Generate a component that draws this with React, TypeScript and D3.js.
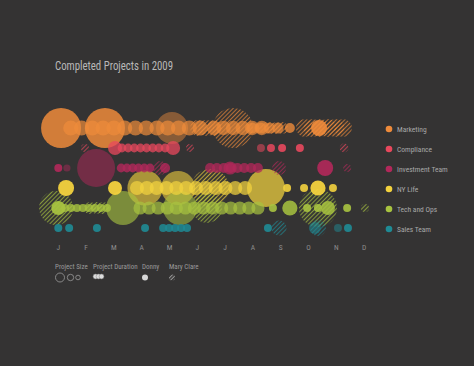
import React from 'react';
import * as d3 from 'd3';

const W = 474;
const H = 366;

const TEAMS = ['Marketing', 'Compliance', 'Investment Team', 'NY Life', 'Tech and Ops', 'Sales Team'];
const TEAM_COLORS = ['#ee8b3b', '#e8485d', '#b2285a', '#f3d23e', '#a8c340', '#1f8b95'];
const MONTHS = ['J', 'F', 'M', 'A', 'M', 'J', 'J', 'A', 'S', 'O', 'N', 'D'];
const OWNERS = ['Donny', 'Mary Clare'];

// [start month, end month, project size, owner (0 = Donny, 1 = Mary Clare), emphasis]
const MARKETING = [
  [0.1, 0.1, 10, 0, 0.85],
  [1.68, 1.68, 10, 0, 0.85],
  [0.45, 5.1, 3.8, 0, 0.7],
  [4.09, 4.09, 8, 0, 0.45],
  [5.03, 5.6, 4, 1, 1],
  [5.6, 7.32, 3.6, 0, 0.7],
  [6.28, 6.28, 10, 1, 1],
  [7.43, 8.05, 3, 1, 1],
  [6.97, 7.9, 2.8, 0, 0.7],
  [8.33, 8.33, 2.5, 0, 0.8],
  [8.87, 10.24, 4.5, 1, 1],
  [9.38, 9.38, 4, 0, 0.9],
];
const COMPLIANCE = [
  [0.96, 0.96, 2, 1, 1],
  [2.04, 2.04, 3.5, 0, 0.75],
  [2.29, 3.84, 2.2, 0, 0.75],
  [4.13, 4.13, 3.5, 0, 0.75],
  [4.74, 4.74, 2, 1, 1],
  [7.29, 7.29, 2, 0, 0.55],
  [7.65, 7.65, 2, 0, 0.85],
  [8.05, 8.05, 2, 0, 0.9],
  [8.69, 8.69, 2, 0, 0.9],
  [10.28, 10.28, 2.2, 1, 1],
];
const INVESTMENT = [
  [0.0, 0.0, 2, 0, 0.9],
  [0.31, 0.31, 1.8, 0, 0.45],
  [1.36, 1.36, 9.5, 0, 0.5],
  [2.26, 3.3, 2.2, 0, 0.8],
  [3.66, 3.66, 3.5, 1, 1],
  [3.84, 3.84, 2.5, 0, 0.8],
  [5.46, 7.18, 2.5, 0, 0.75],
  [6.18, 6.18, 3.3, 0, 0.75],
  [7.94, 7.94, 3.5, 1, 1],
  [9.6, 9.6, 4, 0, 0.9],
  [10.39, 10.39, 2, 1, 1],
];
const NY_LIFE = [
  [0.28, 0.28, 4, 0, 0.95],
  [2.04, 2.04, 3.5, 0, 0.95],
  [3.12, 3.12, 8.8, 0, 0.62],
  [4.31, 4.31, 8.5, 0, 0.58],
  [5.46, 5.46, 9.5, 1, 1],
  [2.83, 6.72, 3.5, 0, 0.72],
  [7.47, 7.47, 9.5, 0, 0.72],
  [8.23, 8.23, 2, 0, 0.9],
  [8.84, 8.84, 2, 0, 0.9],
  [9.34, 9.34, 3.8, 0, 0.95],
  [9.88, 9.88, 2, 0, 0.9],
];
const TECH_OPS = [
  [-0.08, -0.08, 8.5, 1, 1],
  [0.0, 0.0, 3.5, 0, 0.95],
  [0.24, 1.75, 2, 0, 0.8],
  [1.14, 1.61, 3, 1, 1],
  [2.33, 2.33, 8.5, 0, 0.62],
  [2.94, 7.18, 3.3, 0, 0.7],
  [4.38, 4.38, 8.5, 0, 0.55],
  [5.35, 5.35, 7.5, 1, 1],
  [7.72, 7.72, 2, 0, 0.9],
  [8.33, 8.33, 3.8, 0, 0.85],
  [8.95, 8.95, 2, 0, 0.9],
  [9.34, 9.34, 9.5, 1, 1],
  [9.34, 9.34, 2, 0, 0.9],
  [9.7, 9.7, 3.5, 0, 0.85],
  [10.39, 10.39, 2, 0, 0.9],
  [11.03, 11.03, 2, 1, 1],
];
const SALES = [
  [0.0, 0.0, 2, 0, 0.9],
  [0.39, 0.39, 2, 0, 0.9],
  [1.39, 1.39, 2, 0, 0.9],
  [3.12, 3.12, 2, 0, 0.9],
  [3.77, 4.63, 2, 0, 0.85],
  [7.54, 7.54, 2, 0, 0.9],
  [7.94, 7.94, 3.8, 1, 1],
  [9.23, 9.23, 3, 0, 0.5],
  [9.34, 9.34, 4, 1, 1],
  [10.06, 10.06, 2, 0, 0.5],
  [10.42, 10.42, 2, 0, 0.9],
];
const PROJECTS = [MARKETING, COMPLIANCE, INVESTMENT, NY_LIFE, TECH_OPS, SALES];

const FONT = "'Liberation Sans Narrow', 'Roboto Condensed', Roboto, 'DejaVu Sans Condensed', sans-serif";

export default function App() {
  const x = d3.scaleLinear().domain([0, 11]).range([58.3, 364.1]);
  const y = d3.scalePoint<string>().domain(TEAMS).range([128, 228]);
  const r = d3.scaleLinear().domain([0, 10]).range([0, 20]);

  type C = { cx: number; cy: number; rad: number; team: number; owner: number; a: number };
  const circles: C[] = [];
  PROJECTS.forEach((list, ti) => {
    list.forEach(([s, e, size, owner, a]) => {
      const rad = r(size);
      const x0 = x(s);
      const x1 = x(e);
      const cy = y(TEAMS[ti]) as number;
      const span = x1 - x0;
      if (span < 1) {
        circles.push({ cx: x0, cy, rad, team: ti, owner, a });
      } else {
        const step = Math.max(3, rad * (owner === 1 ? 0.9 : 1.4));
        const n = Math.max(1, Math.round(span / step));
        for (let k = 0; k <= n; k++) {
          circles.push({ cx: x0 + (span * k) / n, cy, rad, team: ti, owner, a });
        }
      }
    });
  });
  const sorted = circles
    .map((c, i) => ({ c, i }))
    .sort((p, q) => q.c.rad - p.c.rad || p.i - q.i)
    .map((p) => p.c);

  return (
    <svg width={W} height={H} style={{ position: 'fixed', left: 0, top: 0, display: 'block' }}>
      <defs>
        {TEAM_COLORS.map((col, i) => (
          <pattern key={i} id={`hatch${i}`} width={3} height={3} patternUnits="userSpaceOnUse" patternTransform="rotate(45)">
            <line x1={1.5} y1={0} x2={1.5} y2={3} stroke={col} strokeWidth={1.1} strokeOpacity={0.7} />
          </pattern>
        ))}
        <pattern id="hatchGray" width={2.5} height={2.5} patternUnits="userSpaceOnUse" patternTransform="rotate(45)">
          <line x1={1.25} y1={0} x2={1.25} y2={2.5} stroke="#a0a0a0" strokeWidth={1} />
        </pattern>
      </defs>
      <rect width={W} height={H} fill="#343333" />
      <text x={55} y={69.5} fill="#b8b8b8" fontFamily={FONT} fontSize={12} textLength={118} lengthAdjust="spacingAndGlyphs">
        Completed Projects in 2009
      </text>

      <g>
        {sorted.map((c, i) =>
          c.owner === 1 ? (
            <circle key={i} cx={c.cx} cy={c.cy} r={c.rad} fill={`url(#hatch${c.team})`} />
          ) : (
            <circle key={i} cx={c.cx} cy={c.cy} r={c.rad} fill={TEAM_COLORS[c.team]} fillOpacity={c.a} />
          )
        )}
      </g>

      <g>
        {MONTHS.map((m, i) => (
          <text key={i} x={x(i)} y={250} textAnchor="middle" fill="#8c8c8c" fontFamily={FONT} fontSize={7.5}>
            {m}
          </text>
        ))}
      </g>

      <g>
        {TEAMS.map((t, i) => (
          <g key={t}>
            <circle cx={389} cy={(y(t) as number) + 1} r={3.3} fill={TEAM_COLORS[i]} />
            <text x={397} y={(y(t) as number) + 3.5} fill="#a8a8a8" fontFamily={FONT} fontSize={7.5}>
              {t}
            </text>
          </g>
        ))}
      </g>

      <g fontFamily={FONT} fontSize={7} fill="#9a9a9a">
        <text x={55} y={269}>Project Size</text>
        <text x={93} y={269}>Project Duration</text>
        <text x={142} y={269}>{OWNERS[0]}</text>
        <text x={169} y={269}>{OWNERS[1]}</text>
      </g>
      <g fill="none" stroke="#9a9a9a" strokeWidth={0.8}>
        <circle cx={60} cy={277.5} r={4.5} />
        <circle cx={70.5} cy={277.5} r={3.2} />
        <circle cx={78} cy={277.5} r={2.3} />
      </g>
      <g>
        {[95.5, 98.5, 101.5].map((cx, i) => (
          <circle key={i} cx={cx} cy={276.5} r={2.4} fill="#dcdcdc" stroke="#8a8a8a" strokeWidth={0.5} />
        ))}
      </g>
      <circle cx={145} cy={277.5} r={3} fill="#d6d6d6" />
      <circle cx={172} cy={277.5} r={3} fill="url(#hatchGray)" />
    </svg>
  );
}
